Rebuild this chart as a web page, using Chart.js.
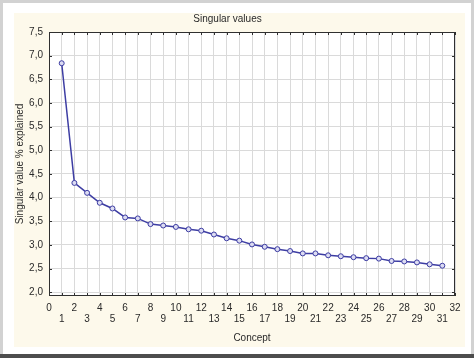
<!DOCTYPE html>
<html>
<head>
<meta charset="utf-8">
<script src="https://cdn.jsdelivr.net/npm/chart.js@4.4.1/dist/chart.umd.min.js"></script>
<style>
    html, body { margin: 0; padding: 0; background: #fff; }
    #wrap { width: 474px; height: 358px; }
</style>
</head>
<body>
<div id="wrap"><canvas id="chart" width="474" height="358"></canvas></div>
<script>
// Data
const concepts = [1, 2, 3, 4, 5, 6, 7, 8, 9, 10, 11, 12, 13, 14, 15, 16,
    17, 18, 19, 20, 21, 22, 23, 24, 25, 26, 27, 28, 29, 30, 31];
const singularValues = [6.84, 4.31, 4.10, 3.89, 3.77, 3.58, 3.56, 3.44, 3.41, 3.38, 3.33,
    3.30, 3.22, 3.14, 3.09, 3.01, 2.96, 2.91, 2.87, 2.82, 2.82, 2.78, 2.76, 2.74,
    2.72, 2.71, 2.66, 2.65, 2.63, 2.59, 2.56];
const yTicks = [2.0, 2.5, 3.0, 3.5, 4.0, 4.5, 5.0, 5.5, 6.0, 6.5, 7.0, 7.5];

const FONT = 'Liberation Sans, Arial, sans-serif';
const TEXT = '#2a2a2a';

// Panel background, frame and plot-area border
const framePlugin = {
    id: 'frame',
    beforeDraw(chart) {
        const { ctx, width, height, chartArea } = chart;
        ctx.save();
        ctx.fillStyle = '#ffffff';
        ctx.fillRect(0, 0, width, height);
        ctx.fillStyle = '#d2d2d2';
        ctx.fillRect(0, 0, width, 3);
        ctx.fillRect(0, 0, 3, height);
        ctx.fillRect(width - 3, 0, 3, height);
        ctx.fillStyle = '#4d4d4d';
        ctx.fillRect(0, height - 4, width, 4);
        ctx.fillStyle = '#fdf9eb';
        ctx.fillRect(14, 13, 451, 334);
        ctx.fillStyle = '#ffffff';
        ctx.fillRect(chartArea.left, chartArea.top,
            chartArea.right - chartArea.left, chartArea.bottom - chartArea.top);
        ctx.restore();
    },
    afterDatasetsDraw(chart) {
        const { ctx, chartArea, scales } = chart;
        ctx.save();
        ctx.strokeStyle = '#303030';
        ctx.lineWidth = 1;
        ctx.strokeRect(chartArea.left + 0.5, chartArea.top + 0.5,
            chartArea.right - chartArea.left - 1, chartArea.bottom - chartArea.top - 1);
        // inward tick marks
        ctx.beginPath();
        scales.x.ticks.forEach(t => {
            const px = Math.round(scales.x.getPixelForValue(t.value)) + 0.5;
            ctx.moveTo(px, chartArea.bottom);
            ctx.lineTo(px, chartArea.bottom - 3);
            ctx.moveTo(px, chartArea.top);
            ctx.lineTo(px, chartArea.top + 3);
        });
        scales.y.ticks.forEach(t => {
            const py = Math.round(scales.y.getPixelForValue(t.value)) + 0.5;
            ctx.moveTo(chartArea.left, py);
            ctx.lineTo(chartArea.left + 3, py);
            ctx.moveTo(chartArea.right, py);
            ctx.lineTo(chartArea.right - 3, py);
        });
        ctx.stroke();
        ctx.restore();
    }
};

new Chart(document.getElementById('chart'), {
    type: 'line',
    data: {
        datasets: [{
            data: concepts.map((c, i) => ({ x: c, y: singularValues[i] })),
            borderColor: '#3d3da3',
            borderWidth: 1.5,
            pointRadius: 2.5,
            pointBorderWidth: 1,
            pointBorderColor: '#3d3da3',
            pointBackgroundColor: '#dcdcf2',
            tension: 0
        }]
    },
    options: {
        responsive: false,
        animation: false,
        layout: { padding: { left: 0, right: 19, top: 0, bottom: 0 } },
        plugins: {
            legend: { display: false },
            tooltip: { enabled: false },
            title: {
                display: true,
                text: 'Singular values',
                color: TEXT,
                font: { family: FONT, size: 10, weight: 'normal', lineHeight: 1.2 },
                padding: { top: 13, bottom: 7 }
            }
        },
        scales: {
            x: {
                type: 'linear',
                min: 0,
                max: 32,
                afterFit(scale) { scale.height = 62; },
                grid: { color: '#dadada', drawTicks: false, tickLength: 0 },
                border: { display: false },
                ticks: {
                    stepSize: 1,
                    autoSkip: false,
                    maxRotation: 0,
                    minRotation: 0,
                    padding: 6,
                    color: TEXT,
                    font: { family: FONT, size: 10, lineHeight: 1.15 },
                    callback: v => (v % 2 === 0 ? [String(v), ''] : ['', String(v)])
                },
                title: {
                    display: true,
                    text: 'Concept',
                    color: TEXT,
                    font: { family: FONT, size: 10, lineHeight: 1.2 },
                    padding: { top: 0, bottom: 14 }
                }
            },
            y: {
                type: 'linear',
                min: 1.92,
                max: 7.5,
                afterFit(scale) { scale.width = 49; },
                afterBuildTicks(scale) {
                    scale.ticks = yTicks.map(v => ({ value: v }));
                },
                grid: { color: '#dadada', drawTicks: false, tickLength: 0 },
                border: { display: false },
                ticks: {
                    padding: 6,
                    color: TEXT,
                    font: { family: FONT, size: 10 },
                    callback: v => v.toFixed(1).replace('.', ',')
                },
                title: {
                    display: true,
                    text: 'Singular value % explained',
                    color: TEXT,
                    font: { family: FONT, size: 10, lineHeight: 1.2 },
                    padding: { top: 14, bottom: 0 }
                }
            }
        }
    },
    plugins: [framePlugin]
});
</script>
</body>
</html>
